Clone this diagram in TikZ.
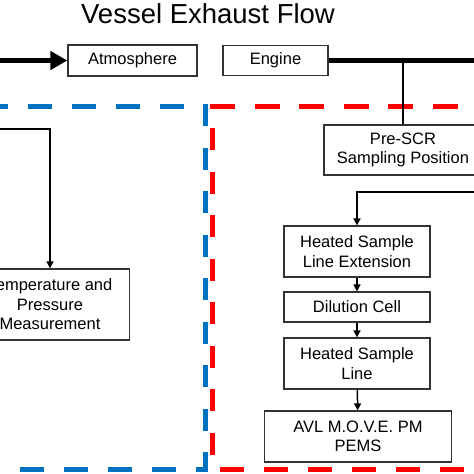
\documentclass[tikz,border=0pt]{standalone}
\usepackage{fontspec}
\setmainfont{Liberation Sans}
\usetikzlibrary{arrows.meta}
\definecolor{zoneblue}{RGB}{0,112,192}
\definecolor{zonered}{RGB}{255,0,0}
\begin{document}
\begin{tikzpicture}[x=1pt,y=-1pt,
    box/.style={draw=black!80,line width=1.2pt,align=center,inner sep=2pt,font=\fontsize{16.5}{19.5}\selectfont},
    mainflow/.style={line width=5.5pt,-{Triangle[length=17pt,width=18pt]}},
    mainline/.style={line width=5.5pt},
    link/.style={line width=1.5pt,-{Triangle[length=7pt,width=7pt]}},
    tapline/.style={line width=1.5pt},
    bluedash/.style={zoneblue,line width=5pt},
    reddash/.style={zonered,line width=5pt}]
    \useasboundingbox (0,0) rectangle (474,474);
    \clip (0,0) rectangle (474,474);

    \node[anchor=base,font=\fontsize{27.5}{33}\selectfont] (title) at (208,23) {Vessel Exhaust Flow};

    % Dashed zones
    \draw[bluedash,dash pattern=on 24pt off 20pt,dash phase=16pt] (0,106) -- (205,106);
    \draw[bluedash,dash pattern=on 22pt off 21.5pt] (205,104) -- (205,469);
    \draw[bluedash,dash pattern=on 24pt off 20pt,dash phase=24pt] (0,469) -- (207.5,469);
    \draw[reddash,dash pattern=on 25pt off 19.5pt] (210,106) -- (474,106);
    \draw[reddash,dash pattern=on 22pt off 21.5pt,dash phase=22pt] (212,106.5) -- (212,469);
    \draw[reddash,dash pattern=on 24pt off 20pt] (220,469) -- (474,469);

    % Boxes
    \node[box,minimum width=129pt,minimum height=31pt] (atmo) at (132.5,60.5) {Atmosphere};
    \node[box,minimum width=105pt,minimum height=30pt] (engine) at (275.5,60.5) {Engine};
    \node[box,minimum width=158pt,minimum height=50pt] (prescr) at (403,150) {Pre-SCR\\Sampling Position};
    \node[box,minimum width=159pt,minimum height=71pt] (temp) at (50,304.5) {Temperature and\\Pressure\\Measurement};
    \node[box,minimum width=146pt,minimum height=51pt] (hsle) at (357,251.5) {Heated Sample\\Line Extension};
    \node[box,minimum width=146pt,minimum height=30pt] (dil) at (357,307) {Dilution Cell};
    \node[box,minimum width=146pt,minimum height=51pt] (hsl) at (357,363.5) {Heated Sample\\Line};
    \node[box,minimum width=187pt,minimum height=51pt] (avl) at (358,436.5) {AVL M.O.V.E. PM\\PEMS};

    % Flow lines
    \coordinate (leftin) at (0,60.5);
    \coordinate (rightout) at (474,60.5);
    \coordinate (tap) at (403,60.5);
    \coordinate (tleft) at (0,129);
    \coordinate (rin) at (474,192);
    \draw[mainflow] (leftin) -- (atmo);
    \draw[mainline] (engine) -- (rightout);
    \draw[tapline] (tap) -- (prescr);
    \draw[link] (tleft) -| (temp);
    \draw[link,line width=2pt] (rin) -| (hsle);
    \draw[link] (hsle) -- (dil);
    \draw[link] (dil) -- (hsl);
    \draw[link] (hsl) -- (avl);
\end{tikzpicture}
\end{document}
